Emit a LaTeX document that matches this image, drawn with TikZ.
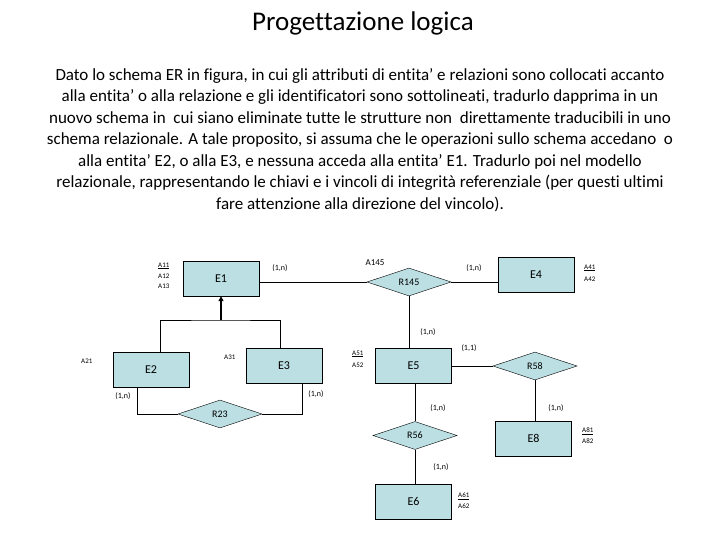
\documentclass[tikz,border=0pt]{standalone}
\usepackage{fontspec}
\setmainfont[Ligatures=NoCommon]{Carlito}
\usetikzlibrary{shapes.geometric,arrows.meta}
\definecolor{fillc}{HTML}{BCDFE3}
\begin{document}
\begin{tikzpicture}[x=1pt,y=-1pt,
  ent/.style={draw,fill=fillc,minimum width=76pt,minimum height=35pt,font=\fontsize{12}{12}\selectfont,inner sep=0},
  rel/.style={draw,diamond,fill=fillc,aspect=3,minimum width=84pt,minimum height=28pt,inner sep=0,font=\fontsize{10}{10}\selectfont},
  attr/.style={font=\fontsize{7}{7}\selectfont,inner sep=0},
  card/.style={font=\fontsize{8}{8}\selectfont,inner sep=0},
  line/.style={draw,thick}]
\useasboundingbox (0,0) rectangle (720,540);
\node (title) at (363,23) {\fontsize{27}{27}\selectfont Progettazione logica};
\node[align=center,font=\fontsize{17}{21.5}\selectfont] (txt) at (360,140) {Dato lo schema ER in figura, in cui gli attributi di entita’ e relazioni sono collocati accanto\\
alla entita’ o alla relazione e gli identificatori sono sottolineati, tradurlo dapprima in un\\
nuovo schema in\ \ cui siano eliminate tutte le strutture non\ \ direttamente traducibili in uno\\
schema relazionale. A tale proposito, si assuma che le operazioni sullo schema accedano\ \ o\\
alla entita’ E2, o alla E3, e nessuna acceda alla entita’ E1. Tradurlo poi nel modello\\
relazionale, rappresentando le chiavi e i vincoli di integrità referenziale (per questi ultimi\\
fare attenzione alla direzione del vincolo).};
% entities
\node[ent] (E1) at (221,278.5) {E1};
\node[ent] (E2) at (151,369.5) {E2};
\node[ent] (E3) at (284,365.5) {E3};
\node[ent] (E4) at (536,274.5) {E4};
\node[ent] (E5) at (413.5,365.5) {E5};
\node[ent] (E8) at (533.5,438.5) {E8};
\node[ent] (E6) at (413.5,501.5) {E6};
% relations
\node[rel] (R145) at (409,282) {R145};
\node[rel] (R23) at (220,414) {R23};
\node[rel] (R58) at (535,366) {R58};
\node[rel] (R56) at (415,435.5) {R56};
% connectors
\coordinate (J) at (221,320);
\draw[line] (E1.east |- R145.west) -- (R145.west);
\draw[line] (R145.east) -- (E4.west |- R145.east);
\draw[line] (R145.south) -- (R145.south |- E5.north);
\draw[line] (E5.east |- R58.west) -- (R58.west);
\draw[line] (R58.south) -- (R58.south |- E8.north);
\draw[line] (E5.south -| R56.north) -- (R56.north);
\draw[line] (R56.south) -- (R56.south |- E6.north);
\draw[line] (E2.south -| 137,0) |- (R23.west);
\draw[line] (E3.south -| 302,0) |- (R23.east);
\draw[line] (160,0 |- E2.north) |- (J) -| (280,0 |- E3.north);
\draw[line width=1.6pt,-{Triangle[length=5pt,width=5pt]}] (J) -- (E1.south);
% attributes
\node[attr,anchor=west] (a11) at (158,266) {\underline{A11}};
\node[attr,anchor=west] (a12) at (158,276) {A12};
\node[attr,anchor=west] (a13) at (158,286) {A13};
\node[attr,anchor=west] (a21) at (81,361) {A21};
\node[attr,anchor=west] (a31) at (224,357) {A31};
\node[attr,anchor=west] (a51) at (352,354) {\underline{A51}};
\node[attr,anchor=west] (a52) at (352,365) {A52};
\node[attr,anchor=west] (a41) at (584,268) {\underline{A41}};
\node[attr,anchor=west] (a42) at (584,279) {A42};
\node[attr,anchor=west] (a81) at (582,431) {\underline{A81}};
\node[attr,anchor=west] (a82) at (582,441) {A82};
\node[attr,anchor=west] (a61) at (458,496) {\underline{A61}};
\node[attr,anchor=west] (a62) at (458,506) {A62};
\node[font=\fontsize{9}{9}\selectfont] (a145) at (375,263) {A145};
% cardinalities
\node[card] (c1) at (280,268) {(1,n)};
\node[card] (c2) at (474,268) {(1,n)};
\node[card] (c3) at (428,332) {(1,n)};
\node[card] (c4) at (469,348) {(1,1)};
\node[card] (c5) at (123,396) {(1,n)};
\node[card] (c6) at (316,394) {(1,n)};
\node[card] (c7) at (438,408) {(1,n)};
\node[card] (c8) at (556,408) {(1,n)};
\node[card] (c9) at (441,467) {(1,n)};
\end{tikzpicture}
\end{document}
